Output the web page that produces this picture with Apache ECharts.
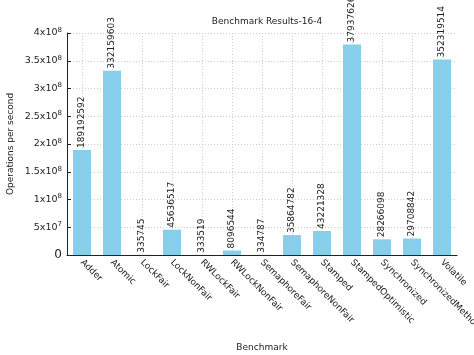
<!DOCTYPE html>
<html><head><meta charset="utf-8">
<script src="https://cdn.jsdelivr.net/npm/echarts@6/dist/echarts.min.js"></script>
<style>html,body{margin:0;padding:0;background:#fff}#c{width:474px;height:355px}</style>
</head><body><div id="c"></div>
<script>
const categories = ['Adder','Atomic','LockFair','LockNonFair','RWLockFair','RWLockNonFair','SemaphoreFair','SemaphoreNonFair','Stamped','StampedOptimistic','Synchronized','SynchronizedMethod','Volatile'];
const values = [189192592,332159603,335745,45636517,333519,8096544,334787,35864782,43221328,379376260,28266098,29708842,352319514];
const titleText = 'Benchmark Results-16-4';
const yTickMax = 400000000;
const yTickStep = 50000000;

function yFmt(v){
  if (v === 0) return '0';
  const e = Math.floor(Math.log10(v) + 1e-9);
  let m = v / Math.pow(10, e);
  m = Math.round(m * 100) / 100;
  return '{b|' + m + 'x10}{s|' + e + '}';
}

const chart = echarts.init(document.getElementById('c'));
const font = 'DejaVu Sans';
chart.setOption({
  animation: false,
  textStyle: {fontFamily: font},
  title: {text: titleText, left: 262, top: 12, textAlign: 'center',
    textStyle: {fontSize: 9, fontWeight: 'normal', color: '#222', fontFamily: font}},
  grid: {left: 67, right: 17, top: 33, bottom: 100, containLabel: false, outerBoundsMode: 'none'},
  xAxis: {
    type: 'category', data: categories,
    name: 'Benchmark', nameLocation: 'middle', nameGap: 88, nameMoveOverlap: false,
    nameTextStyle: {fontSize: 9, color: '#222', fontFamily: font, verticalAlign: 'top'},
    axisLine: {lineStyle: {color: '#222', width: 1}},
    axisTick: {show: false},
    axisLabel: {rotate: -45, fontSize: 9, color: '#222', margin: 6, interval: 0, fontFamily: font},
    splitLine: {show: true, alignWithLabel: true, lineStyle: {color: '#ccc', type: [1, 2], width: 1}}
  },
  yAxis: {
    type: 'value', min: 0, max: yTickMax, interval: yTickStep,
    name: 'Operations per second', nameLocation: 'middle', nameGap: 52, nameMoveOverlap: false,
    nameTextStyle: {fontSize: 9, color: '#222', fontFamily: font},
    axisLine: {show: true, lineStyle: {color: '#222', width: 1}},
    axisTick: {show: true, inside: true, length: 4, lineStyle: {color: '#222'}},
    axisLabel: {formatter: yFmt, color: '#222', margin: 5, fontFamily: font,
      rich: {b: {fontSize: 9.5, color: '#222', fontFamily: font},
             s: {fontSize: 7, color: '#222', verticalAlign: 'bottom', padding: [0,0,6,0], fontFamily: font}}},
    splitLine: {show: true, lineStyle: {color: '#ccc', type: [1, 2], width: 1}}
  },
  series: [{
    type: 'bar', data: values, barWidth: '60%',
    itemStyle: {color: '#87CEEB'},
    label: {show: true, position: 'top', rotate: 90, align: 'left', verticalAlign: 'middle',
      distance: 2, fontSize: 9, color: '#222', fontFamily: font}
  }]
});
</script></body></html>
